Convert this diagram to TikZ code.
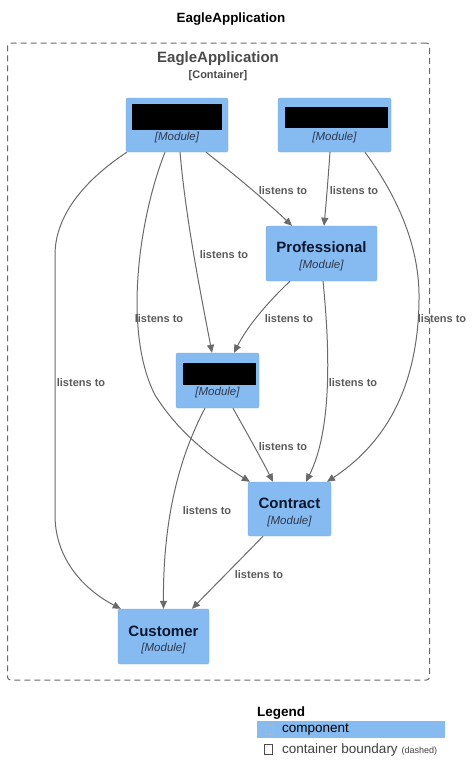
\documentclass[tikz,border=0pt]{standalone}
\usepackage{fontspec}
\setmainfont{Liberation Sans}
\usetikzlibrary{arrows.meta,calc}
\definecolor{compfill}{HTML}{85BBF0}
\definecolor{compedge}{HTML}{78AAE0}
\definecolor{edgegray}{HTML}{6A6A6A}
\definecolor{lblgray}{HTML}{5A5A5A}
\definecolor{boundgray}{HTML}{6A6A6A}
\definecolor{ttlgray}{HTML}{4A4A4A}
\definecolor{navy}{HTML}{0B1630}
\tikzset{
  comp/.style={draw=compedge, line width=0.4pt, fill=compfill, rounded corners=2pt, inner sep=0pt},
  redact/.style={fill=black, draw=none, inner sep=0pt},
  ctitle/.style={font=\fontsize{15}{17}\selectfont\bfseries, text=navy, inner sep=0pt},
  ctype/.style={font=\fontsize{11.5}{13}\selectfont\itshape, text=navy!85, inner sep=0pt},
  lbl/.style={font=\fontsize{11}{13}\selectfont\bfseries, text=lblgray, inner sep=0pt},
  rel/.style={draw=edgegray, line width=1pt, -{Triangle[length=8pt,width=7pt]}},
}
\begin{document}
\begin{tikzpicture}[x=1pt,y=-1pt]
\useasboundingbox (0,0) rectangle (474,780);
% title
\node[font=\fontsize{13.4}{15}\selectfont\bfseries, inner sep=0pt] (title) at (231,19.5) {EagleApplication};
% container boundary
\node[draw=boundgray, dashed, dash pattern=on 6pt off 4pt, line width=1pt, rounded corners=3pt,
      minimum width=422pt, minimum height=637pt, inner sep=0pt] (cont) at (218.5,361.5) {};
\node[font=\fontsize{15}{17}\selectfont\bfseries, text=ttlgray, inner sep=0pt] (contname) at (218,58.5) {EagleApplication};
\node[font=\fontsize{11}{13}\selectfont\bfseries, text=ttlgray, inner sep=0pt] (conttype) at (218,75.5) {[Container]};

% components
\node[comp, minimum width=102pt, minimum height=54pt] (A) at (177,125) {};
\node[redact, minimum width=90pt, minimum height=26pt] (Ar) at (177,117) {};
\node[ctype] (At) at (177,138) {[Module]};

\node[comp, minimum width=113pt, minimum height=54pt] (B) at (334.5,125) {};
\node[redact, minimum width=103pt, minimum height=21pt] (Br) at (336.5,117.5) {};
\node[ctype] (Bt) at (334.5,138) {[Module]};

\node[comp, minimum width=111pt, minimum height=55pt] (P) at (321.5,253.5) {};
\node[ctitle] (Pn) at (321.5,247.5) {Professional};
\node[ctype] (Pt) at (321.5,266) {[Module]};

\node[comp, minimum width=83pt, minimum height=55pt] (C) at (217.5,380.5) {};
\node[redact, minimum width=73pt, minimum height=22pt] (Cr) at (219.5,374) {};
\node[ctype] (Ct) at (217.5,393) {[Module]};

\node[comp, minimum width=83pt, minimum height=54pt] (K) at (289.5,509) {};
\node[ctitle] (Kn) at (289.5,503.5) {Contract};
\node[ctype] (Kt) at (289.5,522) {[Module]};

\node[comp, minimum width=91pt, minimum height=55pt] (U) at (163.5,636.5) {};
\node[ctitle] (Un) at (163.5,631.5) {Customer};
\node[ctype] (Ut) at (163.5,649) {[Module]};

% relationships
\draw[rel] ([xshift=1pt]A.south west) .. controls (85,180) and (55,215) .. (55,255)
   -- (55,515) .. controls (55,560) and (85,590) .. ([xshift=3pt]U.north west);
\draw[rel] ([xshift=-12pt]A.south) .. controls (140,215) and (122,330) .. (155,395)
   .. controls (180,435) and (215,460) .. ([xshift=2pt]K.north west);
\draw[rel] ([xshift=3pt]A.south) .. controls (186,220) and (200,290) .. ([xshift=-5.5pt]C.north);
\draw[rel] ([xshift=29pt]A.south) .. controls (235,175) and (265,200) .. ([xshift=-29.5pt]P.north);
\draw[rel] ([xshift=-4.5pt]B.south) .. controls (328,180) and (326,205) .. ([xshift=2.5pt]P.north);
\draw[rel] ([xshift=30.5pt]B.south) .. controls (400,200) and (420,250) .. (419,300)
   .. controls (418,400) and (375,450) .. ([xshift=37.5pt]K.north);
\draw[rel] ([xshift=-31.5pt]P.south) .. controls (270,300) and (248,325) .. ([xshift=16.5pt]C.north);
\draw[rel] ([xshift=1.5pt]P.south) .. controls (330,350) and (332,430) .. ([xshift=16.5pt]K.north);
\draw[rel] ([xshift=15.5pt]C.south) .. controls (248,435) and (262,460) .. ([xshift=-16.5pt]K.north);
\draw[rel] ([xshift=-12.5pt]C.south) .. controls (175,465) and (163,530) .. (U.north);
\draw[rel] ([xshift=-26.5pt]K.south) .. controls (240,560) and (215,585) .. ([xshift=28.5pt]U.north);

% labels
\node[lbl] (l1) at (81,382.5) {listens to};
\node[lbl] (l2) at (159,318.5) {listens to};
\node[lbl] (l3) at (224,254.5) {listens to};
\node[lbl] (l4) at (283,190.5) {listens to};
\node[lbl] (l5) at (354,190.5) {listens to};
\node[lbl] (l6) at (442,318.5) {listens to};
\node[lbl] (l7) at (289,318.5) {listens to};
\node[lbl] (l8) at (353,382.5) {listens to};
\node[lbl] (l9) at (283,447) {listens to};
\node[lbl] (l10) at (207,510.5) {listens to};
\node[lbl] (l11) at (259,574.5) {listens to};

% legend
\node[font=\fontsize{13.5}{15}\selectfont\bfseries, anchor=west, inner sep=0pt] (leg) at (257,713) {Legend};
\node[fill=compfill, minimum width=188pt, minimum height=17pt, inner sep=0pt] (legc) at (351,729.5) {};
\node[draw=compedge!80!black!60, line width=0.4pt, minimum width=8pt, minimum height=10pt, inner sep=0pt] (legcs) at (269,729.5) {};
\node[font=\fontsize{13.5}{15}\selectfont, anchor=west, inner sep=0pt] (legct) at (282,729.5) {component};
\node[draw=black!70, line width=0.6pt, minimum width=8pt, minimum height=10pt, inner sep=0pt] (legbs) at (268,749) {};
\node[font=\fontsize{13.5}{15}\selectfont, text=black!75, anchor=west, inner sep=0pt] (legbt) at (282,749.5)
   {container boundary {\fontsize{9}{10}\selectfont(dashed)}};
\end{tikzpicture}
\end{document}
